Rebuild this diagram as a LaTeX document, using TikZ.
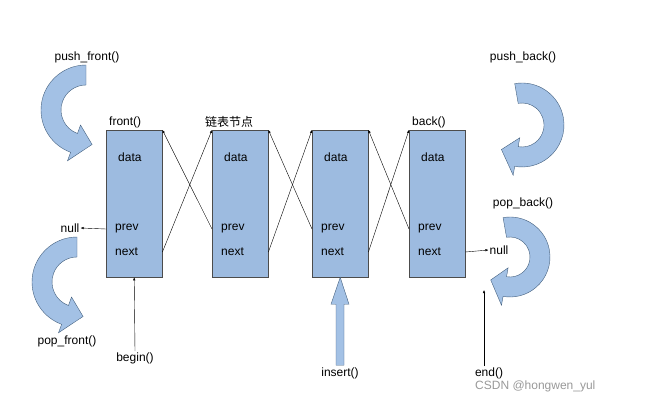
\documentclass[tikz,border=0pt]{standalone}
\usepackage{fontspec}
\setmainfont{Liberation Sans}
\newfontfamily\cjk{Noto Sans CJK SC}
\usetikzlibrary{calc,arrows.meta,positioning}
\definecolor{boxblue}{HTML}{9DBBE0}
\definecolor{bandblue}{HTML}{A3C1E5}
\definecolor{bandline}{HTML}{44607E}
\tikzset{
    x=1pt,y=1pt,
    lbl/.style={inner sep=1pt,font=\fontsize{12}{14}\selectfont},
    ptr/.style={-{Latex[length=3pt,width=2.5pt]},thin}
}
% curved block arrow: centre, outer radius, inner radius, start angle, end angle, head angle
\newcommand{\bandarrow}[6]{%
  \filldraw[fill=bandblue,draw=bandline,thin]
    ($(#1)+(#4:#2)$) arc[start angle=#4,end angle=#5,radius=#2]
    -- ($(#1)+(#5:#2+9)$) -- ($(#1)+(#6:{(#2+#3)/2})$) -- ($(#1)+(#5:#3-9)$)
    -- ($(#1)+(#5:#3)$) arc[start angle=#5,end angle=#4,radius=#3] -- cycle;}

\begin{document}
\begin{tikzpicture}[
cell/.style={rectangle,draw=black!70,fill=boxblue,minimum width=56pt,minimum height=147pt,anchor=north west,inner sep=0pt}]
\useasboundingbox (0,0) rectangle (655,-406);
\node [cell] (b1) at (106,-130) {};
\node [cell] (b2) at (212,-130) {};
\node [cell] (b3) at (312,-130) {};
\node [cell] (b4) at (409,-130) {};
\foreach \b in {1,...,4}
{
\node [lbl,anchor=west] (d\b) at ($(b\b.north west)+(11,-27)$) {data};
\node [lbl,anchor=west] (p\b) at ($(b\b.north west)+(8,-99)$) {prev};
\node [lbl,anchor=west] (n\b) at ($(b\b.north west)+(8,-122)$) {next};
}
\foreach \a/\b in {1/2,2/3,3/4}
{
\draw [ptr] (b\a.east |- n\a) -- (b\b.north west);
\draw [ptr] (b\b.west |- p\b) -- (b\a.north east);
}
\node [lbl,anchor=south west] (front) at ($(b1.north west)+(2,1)$) {front()};
\node [lbl,anchor=south west] (node) at ($(b2.north west)+(-8,1)$) {\cjk 链表节点};
\node [lbl,anchor=south west] (back) at ($(b4.north west)+(2,1)$) {back()};
\node [lbl] (nullL) at (70,-228) {null};
\node [lbl] (nullR) at (499,-250) {null};
\draw [ptr] (b1.west |- p1) -- (nullL.east);
\draw [ptr] (b4.east |- n4) -- (nullR.west);
\node [lbl] (begin) at (135,-358) {begin()};
\node [lbl] (insert) at (340,-373) {insert()};
\node [lbl] (end) at (489,-373) {end()};
\draw [ptr] (begin.north) -- (b1.south);
\coordinate (endtip) at (484,-290);
\draw [ptr] (end.north -| endtip) -- (endtip);
\filldraw [fill=bandblue,draw=bandline,thin] ($(insert.north)+(-4,1)$) -- ++(0,61) -- ++(-5,0)
  -- (b3.south) -- ($(insert.north)+(9,62)$) -- ++(-5,0) -- ++(0,-61) -- cycle;
\node [lbl] (pushF) at (87,-57) {push\_front()};
\node [lbl] (popF) at (67,-341) {pop\_front()};
\node [lbl] (pushB) at (523,-57) {push\_back()};
\node [lbl] (popB) at (523,-203) {pop\_back()};
\bandarrow{86,-110}{45}{25}{90}{250}{280}
\bandarrow{77,-282}{45}{25}{90}{250}{280}
\bandarrow{522,-125}{42}{22}{100}{-100}{-130}
\bandarrow{510,-257}{40}{20}{100}{-100}{-130}
\node [lbl,text=black!40,anchor=west] (mark) at (474,-386) {CSDN @hongwen\_yul};
\end{tikzpicture}
\end{document}
